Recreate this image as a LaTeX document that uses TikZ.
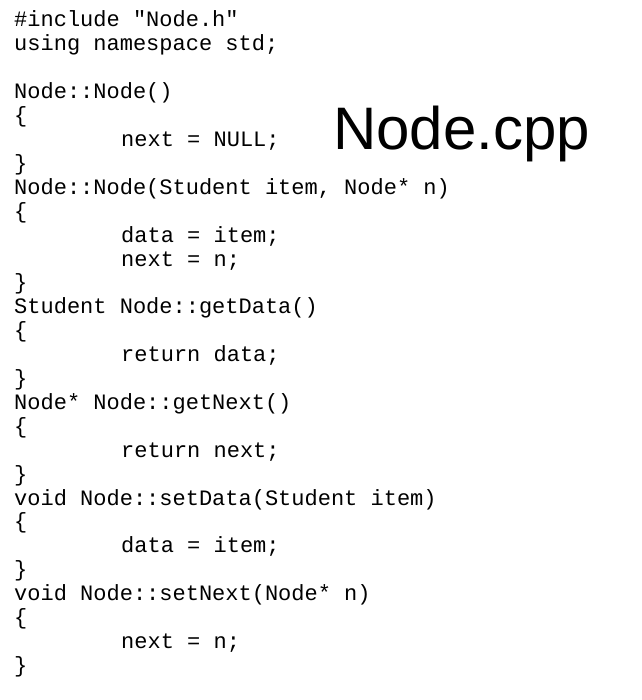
\documentclass[tikz,border=0pt]{standalone}
\usepackage{fontspec}
\setmainfont{Liberation Sans}
\setmonofont{Liberation Mono}
\begin{document}
\begin{tikzpicture}[x=1pt,y=-1pt,
  code/.style={anchor=base west,inner sep=0pt,font=\ttfamily\fontsize{22}{22}\selectfont}]
\useasboundingbox (0,0) rectangle (641,700);
\fill[white] (0,0) rectangle (641,700);
\def\L#1#2#3{\node[code] (l#1) at (#2,{20+(#1-1)*23.9+7}) {#3};}
\L{1}{14}{\#include "Node.h"}
\L{2}{14}{using namespace std;}
\L{4}{14}{Node::Node()}
\L{5}{14}{\{}
\L{6}{121}{next = NULL;}
\L{7}{14}{\}}
\L{8}{14}{Node::Node(Student item, Node* n)}
\L{9}{14}{\{}
\L{10}{121}{data = item;}
\L{11}{121}{next = n;}
\L{12}{14}{\}}
\L{13}{14}{Student Node::getData()}
\L{14}{14}{\{}
\L{15}{121}{return data;}
\L{16}{14}{\}}
\L{17}{14}{Node* Node::getNext()}
\L{18}{14}{\{}
\L{19}{121}{return next;}
\L{20}{14}{\}}
\L{21}{14}{void Node::setData(Student item)}
\L{22}{14}{\{}
\L{23}{121}{data = item;}
\L{24}{14}{\}}
\L{25}{14}{void Node::setNext(Node* n)}
\L{26}{14}{\{}
\L{27}{121}{next = n;}
\L{28}{14}{\}}
\node[anchor=base west,inner sep=0pt,font=\fontsize{60}{60}\selectfont] (title) at (333,150) {Node.cpp};
\end{tikzpicture}
\end{document}
